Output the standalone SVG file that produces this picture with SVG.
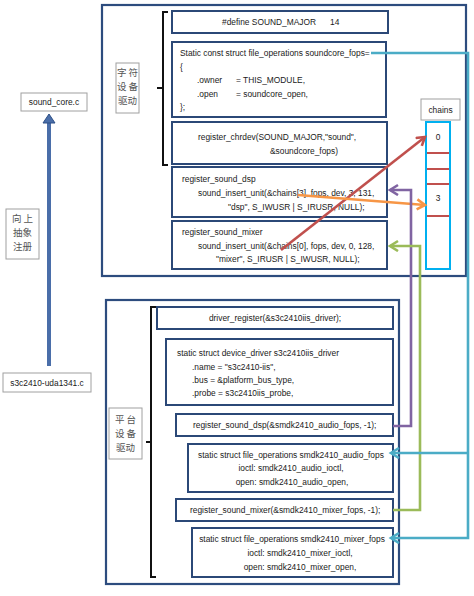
<svg xmlns="http://www.w3.org/2000/svg" width="474" height="596" viewBox="0 0 474 596">
<defs>
<style>
text{font-family:"Liberation Sans",Arial,sans-serif;font-size:8.4px;fill:#1a1a1a}
.cjk{font-family:"Noto Sans CJK SC",sans-serif;font-size:9.5px;fill:#555}
.outer{fill:#fff;stroke:#2d4c7e;stroke-width:2.2}
.box{fill:#fff;stroke:#2b4877;stroke-width:2}
.lbl{fill:#fff;stroke:#a0a0a0;stroke-width:1}
.brk{fill:none;stroke:#111;stroke-width:2}
.c{fill:none;stroke-width:2.6}
.m{text-anchor:middle}
</style>
<marker id="aR" markerUnits="userSpaceOnUse" markerWidth="14" markerHeight="14" refX="9" refY="6" orient="auto"><path d="M1,1 L9,6 L1,11" fill="none" stroke="#c0504d" stroke-width="2.6"/></marker>
<marker id="aO" markerUnits="userSpaceOnUse" markerWidth="14" markerHeight="14" refX="9" refY="6" orient="auto"><path d="M1,1 L9,6 L1,11" fill="none" stroke="#f79646" stroke-width="2.6"/></marker>
<marker id="aP" markerUnits="userSpaceOnUse" markerWidth="14" markerHeight="14" refX="9" refY="6" orient="auto"><path d="M1,1 L9,6 L1,11" fill="none" stroke="#8064a2" stroke-width="2.6"/></marker>
<marker id="aG" markerUnits="userSpaceOnUse" markerWidth="14" markerHeight="14" refX="9" refY="6" orient="auto"><path d="M1,1 L9,6 L1,11" fill="none" stroke="#9bbb59" stroke-width="2.6"/></marker>
<marker id="aT" markerUnits="userSpaceOnUse" markerWidth="14" markerHeight="14" refX="9" refY="6" orient="auto"><path d="M1,1 L9,6 L1,11" fill="none" stroke="#4bacc6" stroke-width="2.6"/></marker>
</defs>
<rect width="474" height="596" fill="#fff"/>

<g id="top-section">
<rect class="outer" x="102" y="5" width="364" height="271"/>
<path class="brk" d="M168,12 L163,12 L163,165 L168,165 M163,88 L157,88"/>
</g>
<g id="label-char">
<rect class="lbl" x="116" y="63" width="23" height="50"/>
<text class="cjk m" x="127.5" y="76">字 符</text>
<text class="cjk m" x="127.5" y="90">设 备</text>
<text class="cjk m" x="127.5" y="104">驱动</text>
</g>
<g id="define">
<rect class="box" x="172" y="11" width="216" height="22"/>
<text x="222" y="25">#define SOUND_MAJOR</text>
<text x="330" y="25">14</text>
</g>
<g id="soundcore-fops">
<rect class="box" x="172" y="42" width="214" height="75"/>
<text x="180" y="55.5">Static const struct file_operations soundcore_fops=</text>
<text x="180" y="69.5">{</text>
<text x="197" y="83">.owner</text><text x="236" y="83">= THIS_MODULE,</text>
<text x="197" y="96.5">.open</text><text x="236" y="96.5">= soundcore_open,</text>
<text x="180" y="110">};</text>
</g>
<g id="register-chrdev">
<rect class="box" x="172" y="122" width="215" height="42"/>
<text x="198" y="140">register_chrdev(SOUND_MAJOR,"sound",</text>
<text x="270" y="154">&amp;soundcore_fops)</text>
</g>
<g id="register-sound-dsp-core">
<rect class="box" x="172" y="167" width="215" height="50"/>
<text x="182" y="182">register_sound_dsp</text>
<text x="198" y="196">sound_insert_unit(&amp;chains[3], fops, dev, 3, 131,</text>
<text x="228" y="210">"dsp", S_IWUSR | S_IRUSR, NULL);</text>
</g>
<g id="register-sound-mixer-core">
<rect class="box" x="172" y="221" width="215" height="48"/>
<text x="182" y="235">register_sound_mixer</text>
<text x="198" y="249">sound_insert_unit(&amp;chains[0], fops, dev, 0, 128,</text>
<text x="216" y="262">"mixer", S_IRUSR | S_IWUSR, NULL);</text>
</g>
<g id="chains-label">
<rect class="lbl" x="421" y="99" width="39" height="21"/>
<text class="m" x="440.5" y="113">chains</text>
</g>
<g id="chains">
<rect x="426" y="122" width="24" height="147" fill="#fff" stroke="#00b0f0" stroke-width="2"/>
<path d="M427,153 H449 M427,169 H449 M427,184 H449 M427,216 H449" stroke="#c0504d" stroke-width="2"/>
<text class="m" x="438" y="140">0</text>
<text class="m" x="438" y="201">3</text>
</g>

<g id="sound-core-c">
<rect class="lbl" x="21" y="93" width="66" height="18"/>
<text class="m" x="54" y="105">sound_core.c</text>
</g>
<g id="label-up">
<rect class="lbl" x="6" y="209" width="33" height="50"/>
<text class="cjk m" x="22.5" y="222">向 上</text>
<text class="cjk m" x="22.5" y="236">抽象</text>
<text class="cjk m" x="22.5" y="250">注册</text>
</g>
<g id="s3c2410-uda1341-c">
<rect class="lbl" x="3" y="373" width="88" height="19"/>
<text class="m" x="47" y="386">s3c2410-uda1341.c</text>
</g>

<g id="bottom-section">
<rect class="outer" x="106" y="300" width="293" height="284"/>
<path class="brk" d="M156,307 L151,307 L151,577 L156,577 M151,442 L146,442"/>
</g>
<g id="label-platform">
<rect class="lbl" x="109" y="408" width="33" height="51"/>
<text class="cjk m" x="125.5" y="423">平 台</text>
<text class="cjk m" x="125.5" y="437">设 备</text>
<text class="cjk m" x="125.5" y="451">驱动</text>
</g>
<g id="driver-register">
<rect class="box" x="157" y="307" width="236" height="22"/>
<text class="m" x="275" y="321">driver_register(&amp;s3c2410iis_driver);</text>
</g>
<g id="device-driver">
<rect class="box" x="166" y="339" width="227" height="66"/>
<text x="177" y="356">static struct device_driver s3c2410iis_driver</text>
<text x="192" y="370">.name = "s3c2410-iis",</text>
<text x="192" y="383">.bus = &amp;platform_bus_type,</text>
<text x="192" y="396">.probe = s3c2410iis_probe,</text>
</g>
<g id="register-sound-dsp">
<rect class="box" x="176" y="414" width="217" height="22"/>
<text x="193" y="428">register_sound_dsp(&amp;smdk2410_audio_fops, -1);</text>
</g>
<g id="audio-fops">
<rect class="box" x="188" y="444" width="205" height="48"/>
<text class="m" x="291" y="458">static struct file_operations smdk2410_audio_fops</text>
<text class="m" x="291" y="471">ioctl: smdk2410_audio_ioctl,</text>
<text class="m" x="292" y="485">open: smdk2410_audio_open,</text>
</g>
<g id="register-sound-mixer">
<rect class="box" x="176" y="499" width="217" height="22"/>
<text x="190" y="513">register_sound_mixer(&amp;smdk2410_mixer_fops, -1);</text>
</g>
<g id="mixer-fops">
<rect class="box" x="192" y="528" width="201" height="49"/>
<text class="m" x="292" y="542">static struct file_operations smdk2410_mixer_fops</text>
<text class="m" x="300" y="556">ioctl: smdk2410_mixer_ioctl,</text>
<text class="m" x="300" y="570">open: smdk2410_mixer_open,</text>
</g>

<g id="connectors">
<path d="M49,366 V121" stroke="#4a6ea9" stroke-width="4" fill="none"/>
<path d="M49,114 L55,123 L43,123 Z" fill="#4a6ea9" stroke="#2d4f86" stroke-width="1"/>
<path class="c" stroke="#c0504d" d="M281,250 L425,137" marker-end="url(#aR)"/>
<path class="c" stroke="#f79646" d="M298,195 L425,205" marker-end="url(#aO)"/>
<path class="c" stroke="#8064a2" d="M393,426 H411 V190 H390" marker-end="url(#aP)"/>
<path class="c" stroke="#9bbb59" d="M393,510 H420 V246 H390" marker-end="url(#aG)"/>
<path class="c" stroke="#4bacc6" d="M371,53 H468 V538 H391" marker-end="url(#aT)"/>
<path class="c" stroke="#4bacc6" d="M468,453 H391" marker-end="url(#aT)"/>
</g>
</svg>
